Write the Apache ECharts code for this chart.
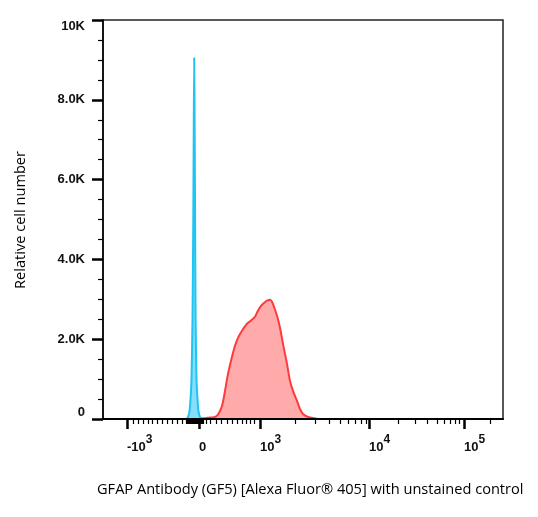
<!DOCTYPE html>
<html>
<head>
<meta charset="utf-8">
<script src="https://cdn.jsdelivr.net/npm/echarts@6/dist/echarts.min.js"></script>
<style>
html,body{margin:0;padding:0;background:#fff;}
#chart{width:538px;height:517px;}
</style>
</head>
<body>
<div id="chart"></div>
<script>
// X values are display-scale channels (0..1000) of the biexponential axis.
const xMajorTickChannels = [60, 240, 392.5, 665, 902.5];
const xMajorTickLabels = ['-10^3', '0', '10^3', '10^4', '10^5'];
const xMinorTickChannels = [75, 87.5, 100, 112.5, 122.5, 135, 147.5, 160, 172.5, 185, 197.5,
  207.5, 210, 212.5, 215, 217.5, 220, 222.5, 225, 227.5, 230, 232.5, 235, 237.5, 242.5, 245, 247.5, 250,
  257.5, 267.5, 282.5, 295, 310, 322.5, 335, 347.5, 357.5, 367.5, 377.5,
  480, 530, 565, 592.5, 612.5, 630, 645, 657.5,
  737.5, 780, 810, 835, 852.5, 867.5, 880, 890, 967.5];
const yTickValues = [0, 2000, 4000, 6000, 8000, 10000];
const yTickLabels = ['0', '2.0K', '4.0K', '6.0K', '8.0K', '10K'];

// Unstained control (blue)
const controlX = [0, 207.5, 212.5, 216.25, 218.75, 221.25, 223.75, 225.75, 227, 228, 229, 230.25, 231.5, 233.75, 236.25, 238.75, 242.5, 247.5, 1000];
const controlY = [0, 0, 50, 200, 500, 1000, 2500, 5000, 7500, 9050, 7500, 5000, 2500, 1000, 500, 200, 50, 0, 0];

// GFAP Antibody (GF5) stained (red)
const stainedX = [242.5, 255, 267.5, 280, 287.5, 297.5, 305, 312.5, 322.5, 330, 337.5, 347.5, 360, 372.5, 380, 387.5, 397.5, 405, 410, 417.5, 422.5, 427.5, 435, 442.5, 450, 460, 467.5, 475, 485, 492.5, 500, 512.5, 530, 542.5];
const stainedY = [13, 18, 38, 50, 113, 327, 704, 1131, 1558, 1834, 2035, 2211, 2387, 2487, 2563, 2714, 2864, 2927, 2965, 2990, 2940, 2814, 2588, 2286, 1884, 1382, 955, 704, 452, 251, 126, 50, 13, 0];

const xTitle = 'GFAP Antibody (GF5) [Alexa Fluor® 405] with unstained control';
const yTitle = 'Relative cell number';

function zip(a, b) { return a.map((v, i) => [v, b[i]]); }
function fmtX(v) {
  const i = xMajorTickChannels.indexOf(v);
  if (i < 0) return '';
  const s = xMajorTickLabels[i];
  const p = s.split('^');
  if (p.length === 1) return '{m|' + p[0] + '}';
  return '{m|' + p[0] + '}{s|' + p[1] + '}';
}

const chart = echarts.init(document.getElementById('chart'), null, {renderer: 'canvas'});
const labelFont = {fontFamily: 'Liberation Sans', fontSize: 13, fontWeight: 'bold', color: '#111'};
chart.setOption({
  animation: false,
  backgroundColor: '#fff',
  grid: {left: 103, top: 20, right: 35, bottom: 98, show: true, borderColor: '#222', borderWidth: 1.5, backgroundColor: 'transparent'},
  xAxis: [{
    type: 'value', min: 0, max: 1000, position: 'bottom', z: 5,
    splitLine: {show: false},
    axisLine: {show: true, lineStyle: {color: '#000', width: 2}},
    axisTick: {show: true, customValues: xMajorTickChannels, length: 10, lineStyle: {color: '#000', width: 2.5}},
    axisLabel: {
      show: true, customValues: xMajorTickChannels, align: 'left', margin: 15,
      formatter: fmtX,
      rich: {
        m: Object.assign({}, labelFont, {verticalAlign: 'bottom', lineHeight: 20}),
        s: Object.assign({}, labelFont, {fontSize: 12, verticalAlign: 'top', lineHeight: 20})
      }
    }
  }, {
    type: 'value', min: 0, max: 1000, position: 'bottom', z: 5,
    splitLine: {show: false},
    axisLine: {show: false},
    axisTick: {show: true, customValues: xMinorTickChannels, length: 5, lineStyle: {color: '#000', width: 1.2}},
    axisLabel: {show: false}
  }],
  yAxis: {
    type: 'value', min: 0, max: 10000, interval: 2000, z: 5,
    splitLine: {show: false},
    axisLine: {show: true, lineStyle: {color: '#000', width: 1.5}},
    axisTick: {show: true, length: 11, lineStyle: {color: '#000', width: 2.5}},
    minorTick: {show: true, splitNumber: 4, length: 5, lineStyle: {color: '#000', width: 1.2}},
    axisLabel: Object.assign({}, labelFont, {
      margin: 18,
      verticalAlignMaxLabel: 'top', verticalAlignMinLabel: 'bottom',
      formatter: function (v) { const i = yTickValues.indexOf(v); return i < 0 ? '' : yTickLabels[i]; }
    })
  },
  graphic: [
    {type: 'text', left: 97, top: 482, style: {text: xTitle, fontFamily: 'Open Sans', fontSize: 14.6, fill: '#000'}},
    {type: 'text', x: 21, y: 220, rotation: Math.PI / 2, style: {text: yTitle, fontFamily: 'Open Sans', fontSize: 14.6, fill: '#000', align: 'center', verticalAlign: 'middle'}}
  ],
  series: [{
    type: 'line', xAxisIndex: 0, data: zip(stainedX, stainedY), showSymbol: false, smooth: 0.3,
    lineStyle: {color: '#ff3a3a', width: 2}, areaStyle: {color: '#ffabab', opacity: 1}, z: 2
  }, {
    type: 'line', xAxisIndex: 0, data: zip(controlX, controlY), showSymbol: false, smooth: 0.2,
    lineStyle: {color: '#1ec4f2', width: 2}, areaStyle: {color: '#86defa', opacity: 1}, z: 3
  }]
});
</script>
</body>
</html>
